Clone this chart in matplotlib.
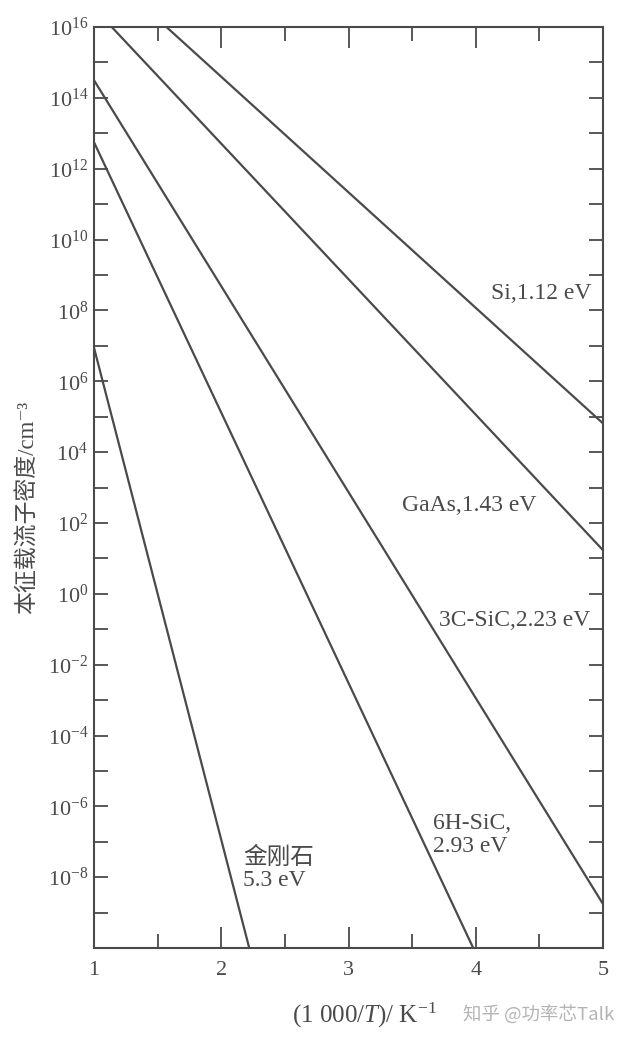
import numpy as np
import matplotlib
matplotlib.use("Agg")
import matplotlib.pyplot as plt
from matplotlib.ticker import FixedLocator, FuncFormatter, NullLocator

plt.rcParams['font.family'] = ['Liberation Serif', 'Noto Sans CJK SC', 'DejaVu Serif']
plt.rcParams['mathtext.fontset'] = 'custom'
plt.rcParams['mathtext.rm'] = 'Liberation Serif'
plt.rcParams['mathtext.it'] = 'Liberation Serif:italic'

# data: each line from its start point to its end point
names = ['Si,1.12 eV', 'GaAs,1.43 eV', '3C-SiC,2.23 eV', '6H-SiC,\n2.93 eV', '金刚石\n5.3 eV']
x_start = [1.57, 1.14, 1.0, 1.0, 1.0]
log_n_start = [16.0, 16.0, 14.5, 12.75, 6.95]
x_end = [5.0, 5.0, 5.0, 3.98, 2.22]
log_n_end = [4.81, 1.23, -8.76, -10.0, -10.0]

# where each label sits (x, log10 n) and how it is aligned
label_x = [4.91, 4.48, 4.90, 3.66, 2.17]
label_logn = [8.49, 2.5, -0.74, -6.81, -7.77]
label_ha = ['right', 'right', 'right', 'left', 'left']

ink = '#4a4a4a'

fig = plt.figure(figsize=(6.32, 10.41), dpi=100)
ax = fig.add_axes([0.1487, 0.0893, 0.8055, 0.8847])

for i in range(len(names)):
    ax.plot([x_start[i], x_end[i]], [10 ** log_n_start[i], 10 ** log_n_end[i]],
            color=ink, lw=1.6, solid_capstyle='butt')
    ax.text(label_x[i], 10 ** label_logn[i], names[i], ha=label_ha[i], va='center',
            fontsize=17, color=ink, linespacing=1.1)

ax.set_yscale('log')
ax.set_xlim(1, 5)
ax.set_ylim(1e-10, 1e16)

ax.xaxis.set_major_locator(FixedLocator([1, 2, 3, 4, 5]))
ax.xaxis.set_minor_locator(FixedLocator([1.5, 2.5, 3.5, 4.5]))
ax.yaxis.set_major_locator(FixedLocator([10.0 ** k for k in range(-10, 17)]))
ax.yaxis.set_minor_locator(NullLocator())


def ylab(v, pos):
    k = int(round(np.log10(v)))
    if k % 2 == 0 and -8 <= k <= 16:
        return r'$10^{%d}$' % k
    return ''


ax.yaxis.set_major_formatter(FuncFormatter(ylab))

ax.tick_params(axis='x', which='major', direction='in', length=15, width=1.3,
               top=True, color=ink, labelcolor=ink, labelsize=16, pad=9)
ax.tick_params(axis='x', which='minor', direction='in', length=10, width=1.3,
               top=True, color=ink)
ax.tick_params(axis='y', which='major', direction='in', length=10, width=1.3,
               right=True, color=ink, labelcolor=ink, labelsize=16, pad=4)
for s in ax.spines.values():
    s.set_color(ink)
    s.set_linewidth(1.5)

ax.set_ylabel('本征载流子密度/cm⁻³', fontsize=16.5, color=ink)
ax.yaxis.set_label_coords(-0.108, 0.478)
ax.set_xlabel(r'(1 000/$T$)/ K$^{-1}$', fontsize=18, color=ink)
ax.xaxis.set_label_coords(0.532, -0.057)

fig.text(0.733, 0.025, '知乎 @功率芯Talk', fontsize=13.3, color='#b4b4b4',
         family=['Noto Sans CJK SC', 'DejaVu Sans'], ha='left', va='center')

fig.savefig('out.png', dpi=100, facecolor='white')
